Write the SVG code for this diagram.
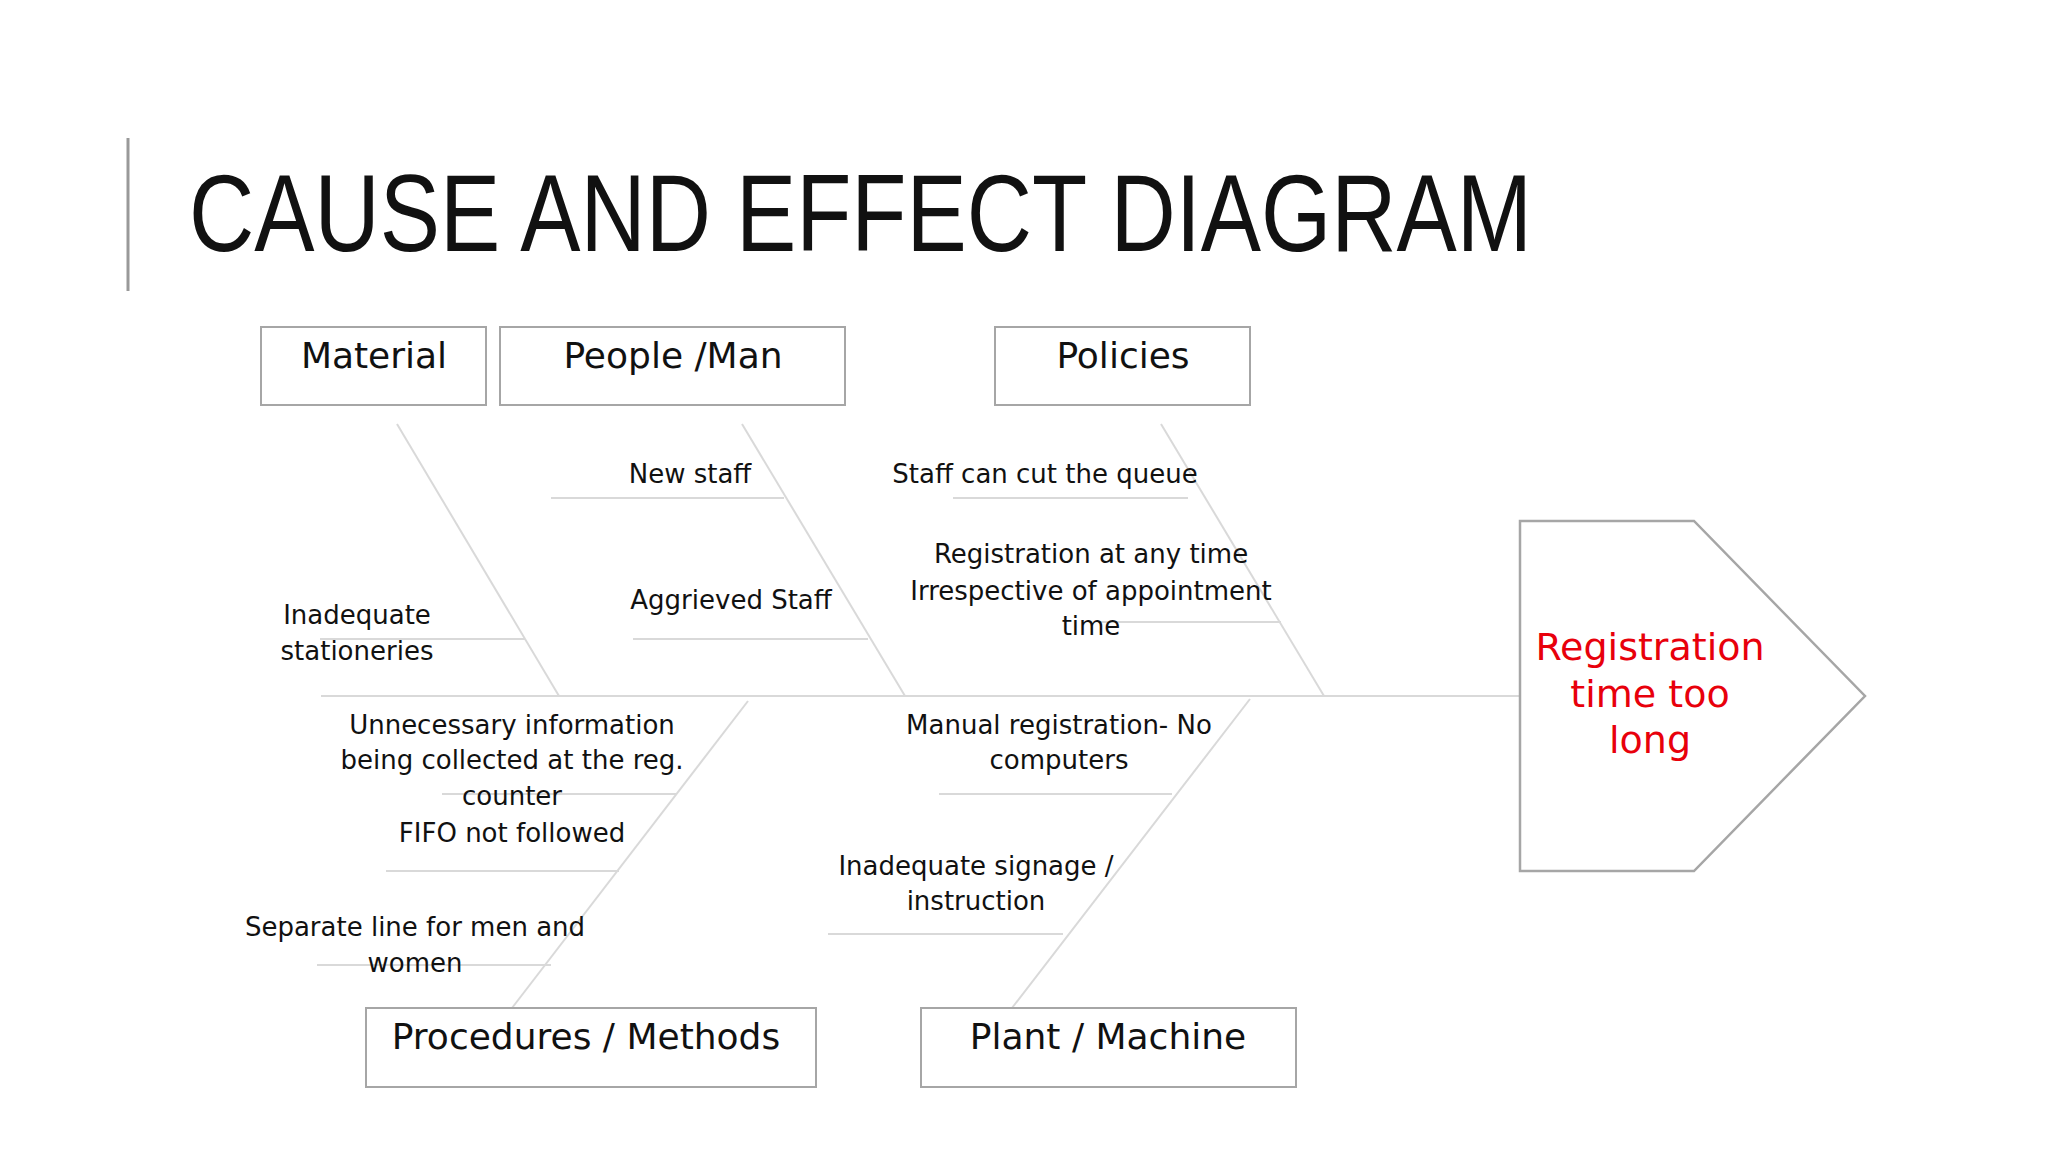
<svg xmlns="http://www.w3.org/2000/svg" width="2048" height="1152" viewBox="0 0 2048 1152">
<style>
.box{fill:#fff;stroke:#a6a6a6;stroke-width:2}
.bt{font-family:"DejaVu Sans",sans-serif;font-size:36px;fill:#111;text-anchor:middle}
.t{font-family:"DejaVu Sans",sans-serif;font-size:26px;fill:#111;text-anchor:middle}
.ln{stroke:#d9d9d9;stroke-width:2;fill:none}
</style>
<rect width="2048" height="1152" fill="#fff"/>
<line x1="128" y1="138" x2="128" y2="291" stroke="#999" stroke-width="3"/>
<text x="189" y="251" font-family="Liberation Sans Narrow,Liberation Sans,sans-serif" font-size="110" fill="#111" textLength="1343" lengthAdjust="spacingAndGlyphs">CAUSE AND EFFECT DIAGRAM</text>
<g id="connectors" class="ln">
<line x1="321" y1="696" x2="1520" y2="696"/>
<line x1="397" y1="424" x2="559" y2="696"/>
<line x1="742" y1="424" x2="905" y2="696"/>
<line x1="1161" y1="424" x2="1324" y2="696"/>
<line x1="748" y1="701" x2="512" y2="1008"/>
<line x1="1250" y1="699" x2="1012" y2="1008"/>
<line x1="551" y1="498" x2="784" y2="498"/>
<line x1="633" y1="639" x2="868" y2="639"/>
<line x1="320" y1="639" x2="525" y2="639"/>
<line x1="953" y1="498" x2="1188" y2="498"/>
<line x1="1098" y1="622" x2="1281" y2="622"/>
<line x1="442" y1="794" x2="676" y2="794"/>
<line x1="386" y1="871" x2="619" y2="871"/>
<line x1="317" y1="965" x2="551" y2="965"/>
<line x1="939" y1="794" x2="1172" y2="794"/>
<line x1="828" y1="934" x2="1063" y2="934"/>
</g>
<g id="material"><rect class="box" x="261" y="327" width="225" height="78"/><text class="bt" x="374" y="368">Material</text></g>
<g id="people"><rect class="box" x="500" y="327" width="345" height="78"/><text class="bt" x="673" y="368">People /Man</text></g>
<g id="policies"><rect class="box" x="995" y="327" width="255" height="78"/><text class="bt" x="1123" y="368">Policies</text></g>
<g id="procedures"><rect class="box" x="366" y="1008" width="450" height="79"/><text class="bt" x="586" y="1049">Procedures / Methods</text></g>
<g id="plant"><rect class="box" x="921" y="1008" width="375" height="79"/><text class="bt" x="1108" y="1049">Plant / Machine</text></g>
<g id="effect"><polygon points="1520,521 1694,521 1865,696 1694,871 1520,871" fill="#fff" stroke="#a6a6a6" stroke-width="2.5"/>
<text font-family="DejaVu Sans,sans-serif" font-size="38" fill="#e8000b" text-anchor="middle"><tspan x="1650" y="660">Registration</tspan><tspan x="1650" y="707">time too</tspan><tspan x="1650" y="753">long</tspan></text></g>
<g id="c1"><text class="t" x="690" y="483">New staff</text></g>
<g id="c2"><text class="t" x="1045" y="483">Staff can cut the queue</text></g>
<g id="c3"><text class="t"><tspan x="1091" y="563">Registration at any time</tspan><tspan x="1091" y="600">Irrespective of appointment</tspan><tspan x="1091" y="635">time</tspan></text></g>
<g id="c4"><text class="t" x="731" y="609">Aggrieved Staff</text></g>
<g id="c5"><text class="t"><tspan x="357" y="624">Inadequate</tspan><tspan x="357" y="660">stationeries</tspan></text></g>
<g id="c6"><text class="t"><tspan x="512" y="734">Unnecessary information</tspan><tspan x="512" y="769">being collected at the reg.</tspan><tspan x="512" y="805">counter</tspan><tspan x="512" y="842">FIFO not followed</tspan></text></g>
<g id="c7"><text class="t"><tspan x="415" y="936">Separate line for men and</tspan><tspan x="415" y="972">women</tspan></text></g>
<g id="c8"><text class="t"><tspan x="1059" y="734">Manual registration- No</tspan><tspan x="1059" y="769">computers</tspan></text></g>
<g id="c9"><text class="t"><tspan x="976" y="875">Inadequate signage /</tspan><tspan x="976" y="910">instruction</tspan></text></g>
</svg>
